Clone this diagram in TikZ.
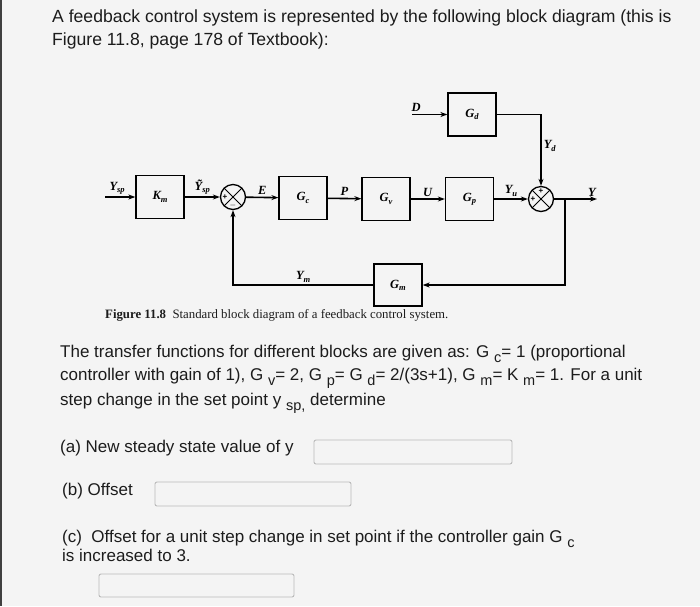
\documentclass[tikz,border=0pt]{standalone}
\usepackage{fontspec}
\setmainfont{Liberation Sans}
\newfontfamily\figfont{Liberation Serif}
\usepackage{xcolor}
\usepackage{tikz}
\usetikzlibrary{arrows.meta,positioning,calc}
\definecolor{ink}{HTML}{1C1C1C}
\definecolor{paper}{HTML}{F4F4F4}
\newcommand{\lowsub}[1]{\raisebox{-0.32em}{\fontsize{14.5}{14.5}\selectfont #1}}
\newcommand{\dsub}[1]{\raisebox{-0.4ex}{\fontsize{8.5}{8.5}\selectfont #1}}

\begin{document}
\begin{tikzpicture}[x=1pt,y=-1pt,
    block/.style={draw,line width=1.3pt,minimum width=48pt,minimum height=43pt,inner sep=0pt,
        font=\figfont\bfseries\itshape\fontsize{12.5}{12.5}\selectfont},
    sumnode/.style={draw,circle,line width=1.3pt,minimum size=25pt,inner sep=0pt,
        path picture={\draw[line width=1pt] (path picture bounding box.north west) -- (path picture bounding box.south east)
            (path picture bounding box.north east) -- (path picture bounding box.south west);}},
    sig/.style={-{Stealth[length=7pt,width=5pt]},line width=1.6pt},
    lbl/.style={font=\figfont\bfseries\itshape\fontsize{12.5}{12.5}\selectfont,inner sep=2pt},
    sgn/.style={font=\fontsize{8}{8}\selectfont\bfseries,inner sep=0pt},
    txt/.style={anchor=base west,inner sep=0pt,text=ink,font=\fontsize{17}{20}\selectfont},
    ansbox/.style={draw=gray!55,fill=paper,rounded corners=2pt,line width=0.9pt}]

    % page
    \fill[paper] (0,0) rectangle (700,606);
    \fill[black!75] (0,0) rectangle (2,606);

    % question
    \node[txt,font=\fontsize{17.6}{20}\selectfont] (q1) at (52,22) {A feedback control system is represented by the following block diagram (this is};
    \node[txt,font=\fontsize{17.6}{20}\selectfont] (q2) at (52,45) {Figure 11.8, page 178 of Textbook):};

    % blocks
    \node[block] (km) at (160,197) {K\dsub{m}};
    \node[sumnode] (s1) at (233,197) {};
    \node[block] (gc) at (303,198) {G\dsub{c}};
    \node[block] (gv) at (386,199) {G\dsub{v}};
    \node[block] (gp) at (469.5,199) {G\dsub{p}};
    \node[sumnode] (s2) at (541,199) {};
    \node[block] (gd) at (472,114.5) {G\dsub{d}};
    \node[block,minimum height=42pt] (gm) at (398,285) {G\dsub{m}};

    % signs
    \node[sgn] at ([xshift=5pt]s1.west) {+};
    \node[sgn] at ([yshift=5pt]s1.south) {$-$};
    \node[sgn] at ([yshift=-5pt]s2.north) {+};
    \node[sgn] at ([xshift=5pt]s2.west) {+};

    % free ends
    \coordinate (ysp) at (105,197);
    \coordinate (din) at (412,114.5);
    \coordinate (yout) at (597,199);
    \coordinate (br) at (565,199);

    % forward path
    \draw[sig] (ysp) -- node[lbl,above,pos=0.4] {Y\dsub{sp}} (km);
    \draw[sig] (km) -- node[lbl,above] {\~{Y}\dsub{sp}} (s1);
    \draw[sig] (s1) -- node[lbl,above] {E} (gc);
    \draw[sig] (gc) -- node[lbl,above] {P} (gv);
    \draw[sig] (gv) -- node[lbl,above] {U} (gp);
    \draw[sig] (gp) -- node[lbl,above] {Y\dsub{u}} (s2);
    \draw[sig] (s2) -- node[lbl,above,pos=0.88] {Y} (yout);

    % disturbance
    \draw[sig] (din) -- node[lbl,above,pos=0.12] {D} (gd);
    \draw[sig] (gd.east) -| node[lbl,right,pos=0.72] {Y\dsub{d}} (s2.north);

    % feedback
    \draw[sig] (br) |- (gm.east);
    \draw[sig] (gm.west) -| node[lbl,above,pos=0.25] {Y\dsub{m}} (s1.south);

    \node[anchor=base west,inner sep=0pt,text=ink,font=\figfont\fontsize{12.8}{12.8}\selectfont] (cap) at (105,318)
        {\textbf{Figure 11.8}\ \ Standard block diagram of a feedback control system.};

    % given data
    \node[txt] (t1) at (60,357) {The transfer functions for different blocks are given as: G \lowsub{c}= 1 (proportional};
    \node[txt] (t2) at (60,380) {controller with gain of 1), G \lowsub{v}= 2, G \lowsub{p}= G \lowsub{d}= 2/(3s+1), G \lowsub{m}= K \lowsub{m}= 1. For a unit};
    \node[txt] (t3) at (60,405) {step change in the set point y \lowsub{sp,} determine};

    % parts
    \node[txt] (pa) at (60,452) {(a) New steady state value of y};
    \draw[ansbox] (314,440) rectangle (512,464);
    \node[txt] (pb) at (62,495) {(b) Offset};
    \draw[ansbox] (155,482) rectangle (351,506);
    \node[txt] (pc) at (62,542) {(c) \ Offset for a unit step change in set point if the controller gain G \lowsub{c}};
    \node[txt] (pc2) at (62,561) {is increased to 3.};
    \draw[ansbox] (99,574) rectangle (294,597);
\end{tikzpicture}
\end{document}
